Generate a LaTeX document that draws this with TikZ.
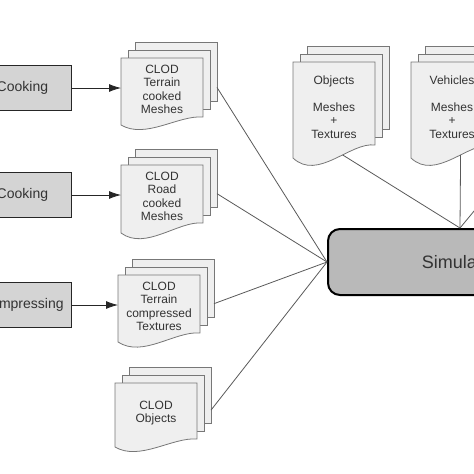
\documentclass[tikz,border=0pt]{standalone}
\usepackage{fontspec}
\setmainfont{Liberation Sans}
\usepackage{tikz}
\usetikzlibrary{positioning}
\usetikzlibrary{calc}
\usetikzlibrary{arrows.meta}
\definecolor{inkgray}{HTML}{333333}
\definecolor{pagefill}{HTML}{EFEFEF}
\definecolor{pageline}{HTML}{777777}
\definecolor{procfill}{HTML}{D4D4D4}
\definecolor{simfill}{HTML}{B9B9B9}
\tikzstyle{process} = [draw=black!85, fill=procfill, line width=1.2pt, rectangle, minimum height=45pt, minimum width=98pt, text=inkgray, font=\fontsize{14}{16}\selectfont]
\tikzstyle{page} = [draw=pageline, fill=pagefill, line width=0.8pt]
\tikzstyle{doctext} = [align=center, text=inkgray, font=\fontsize{12}{13.5}\selectfont]
\tikzstyle{sim} = [draw=black, fill=simfill, line width=2pt, rectangle, rounded corners=12pt, minimum height=66pt, minimum width=272pt, text=inkgray, font=\fontsize{18}{20}\selectfont]
\tikzstyle{link} = [draw=black!65, line width=0.8pt]
\tikzstyle{feed} = [draw=black!85, line width=0.8pt]

% stack of three pages: name, x, y (top left of front page), left height, right height, text
\newcommand{\docstack}[6]{%
  \pgfmathsetmacro\wavedip{#4-#5}
  \foreach \k in {2,1}{
    \draw[page] (#2+7*\k,#3-8*\k) rectangle ++(82,#5);
  }
  \draw[page] (#2,#3) -- ++(82,0) -- ++(0,#5)
    .. controls (#2+57.4,#3+#5-0.25*\wavedip) and (#2+24.6,#3+#4+1.8*\wavedip) .. (#2,#3+#4)
    coordinate[pos=0.4] (#1-bot) -- cycle;
  \node[doctext] (#1) at (#2+41,{#3+(#4+#5)/4}) {#6};
  \coordinate (#1-in) at (#2,#3+30);
  \coordinate (#1-out) at (#2+96,{#3-16+0.77*#5});
}

\begin{document}
\begin{tikzpicture}[x=1pt,y=-1pt,>={Latex[length=12pt,width=8pt]}]
    \useasboundingbox (0,0) rectangle (474,474);
    \clip (0,0) rectangle (474,474);

    \docstack{ter}{121}{58}{67}{59}{CLOD\\Terrain\\cooked\\Meshes}
    \docstack{road}{121}{165}{68}{58}{CLOD\\Road\\cooked\\Meshes}
    \docstack{tex}{118}{275}{67}{58}{CLOD\\Terrain\\compressed\\Textures}
    \docstack{cobj}{115}{383}{64}{56}{CLOD\\Objects}
    \docstack{obj}{293}{62}{96}{83}{Objects\\[13.5pt]Meshes\\+\\Textures}
    \docstack{veh}{411}{62}{96}{83}{Vehicles\\[13.5pt]Meshes\\+\\Textures}

    \node [process, left=49pt of ter-in] (cook1) {Cooking};
    \node [process, left=49pt of road-in] (cook2) {Cooking};
    \node [process, left=46pt of tex-in] (compress) {Compressing};

    \draw [feed,->] (cook1) -- (ter-in);
    \draw [feed,->] (cook2) -- (road-in);
    \draw [feed,->] (compress) -- (tex-in);

    \coordinate (rest) at (518,158);
    \node [sim] (sim) at (464,262) {Simulation};

    \draw [link] (ter-out) -- (sim.west);
    \draw [link] (road-out) -- (sim.west);
    \draw [link] (tex-out) -- (sim.west);
    \draw [link] (cobj-out) -- (sim.west);
    \draw [link] (obj-bot) -- ([xshift=-4pt]sim.north);
    \draw [link] (veh-bot) -- ([xshift=-4pt]sim.north);
    \draw [link] (rest) -- ([xshift=-4pt]sim.north);
\end{tikzpicture}
\end{document}
